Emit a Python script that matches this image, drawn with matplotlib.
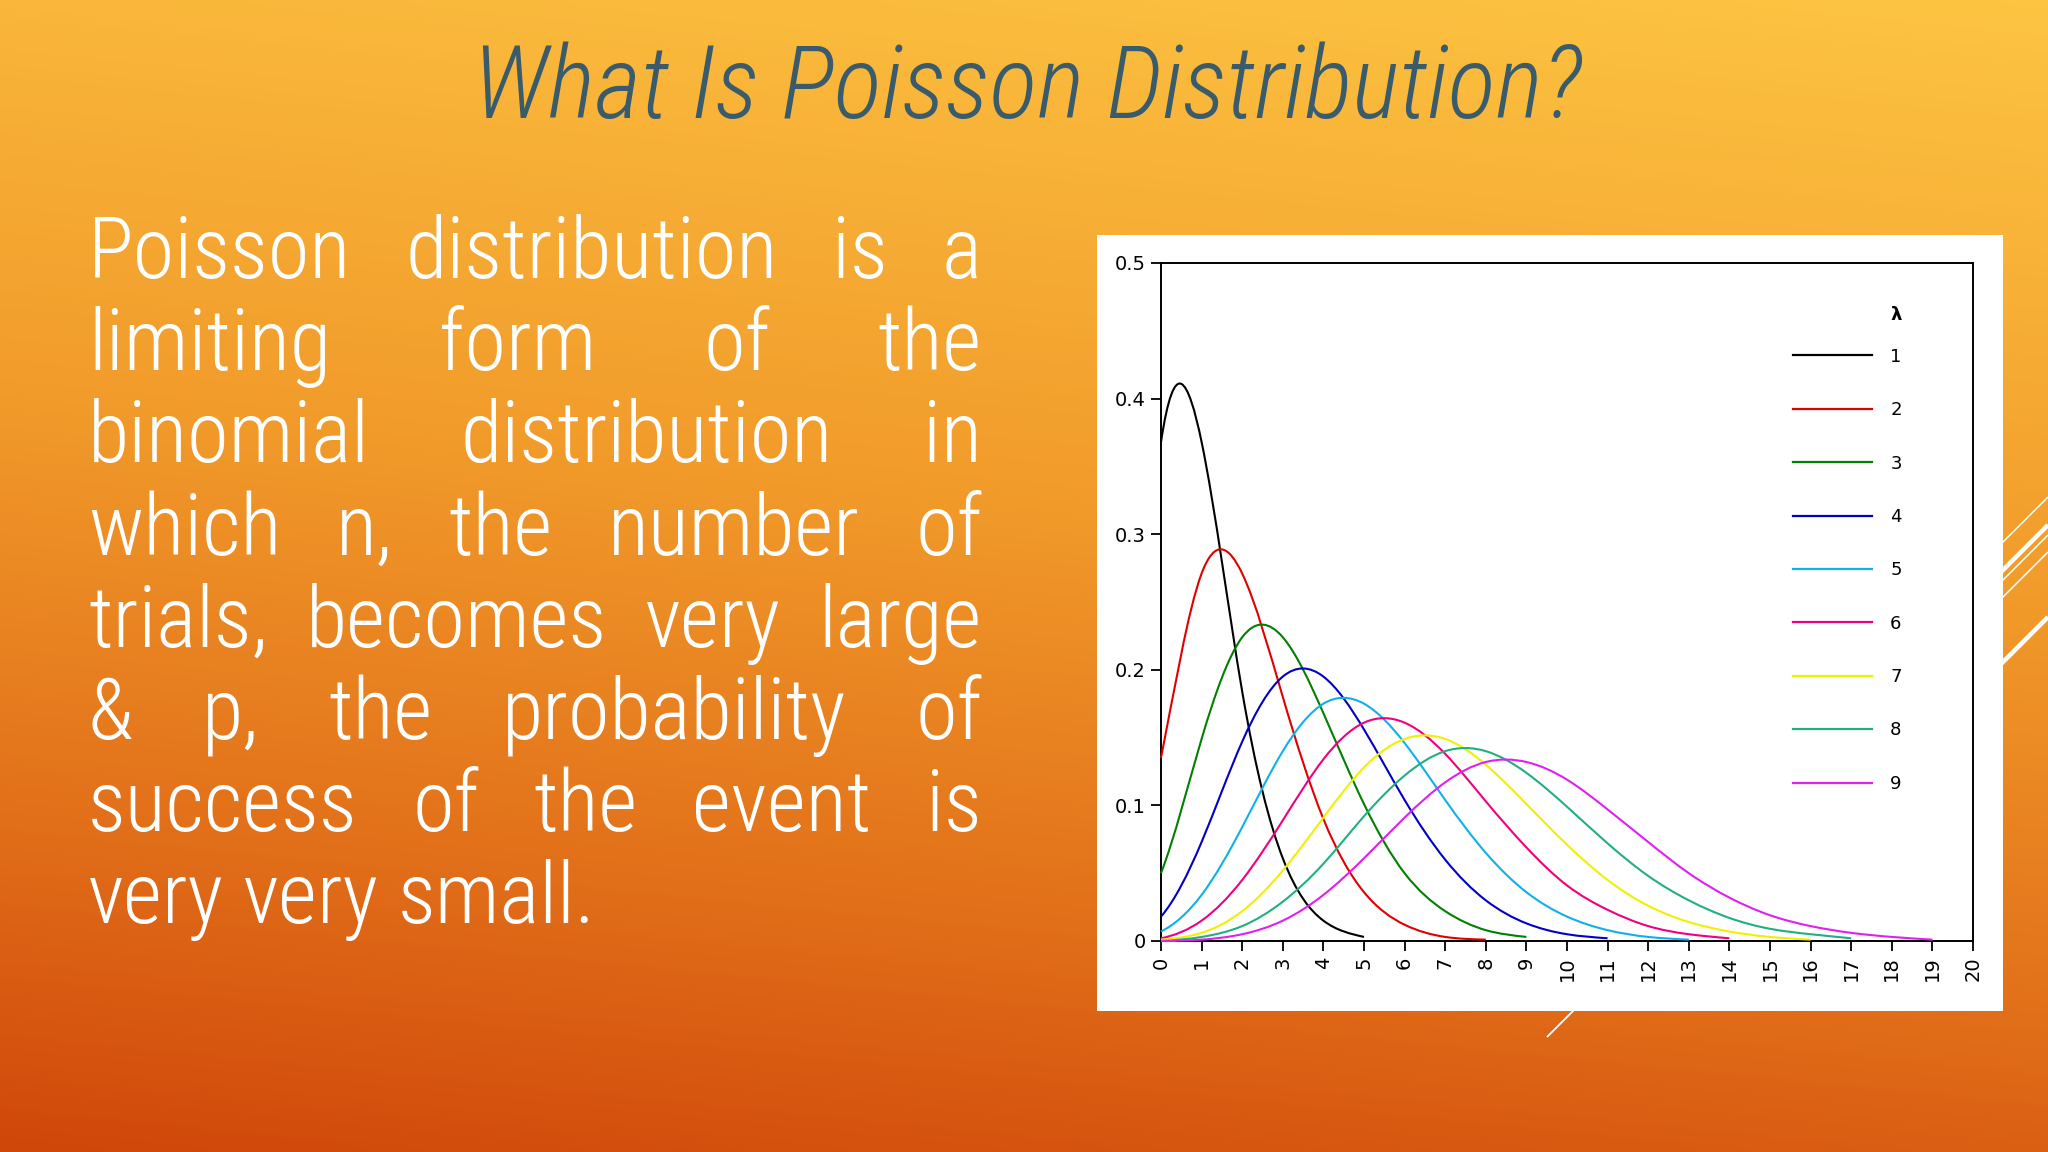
import numpy as np
import matplotlib
matplotlib.use("Agg")
import matplotlib.pyplot as plt
from matplotlib.path import Path
from matplotlib.patches import PathPatch, Rectangle
from matplotlib.lines import Line2D
from matplotlib.colors import LinearSegmentedColormap

W, H = 2048, 1152

# ── data: Poisson pmf at k = 0, 1, 2, ... ────────────────────────────────────
LAMBDAS = [1, 2, 3, 4, 5, 6, 7, 8, 9]
PMF_1 = [0.368, 0.368, 0.184, 0.061, 0.015, 0.003]
PMF_2 = [0.135, 0.271, 0.271, 0.180, 0.090, 0.036, 0.012, 0.003, 0.001]
PMF_3 = [0.050, 0.149, 0.224, 0.224, 0.168, 0.101, 0.050, 0.022, 0.008, 0.003]
PMF_4 = [0.018, 0.073, 0.147, 0.195, 0.195, 0.156, 0.104, 0.060, 0.030, 0.013,
         0.005, 0.002]
PMF_5 = [0.007, 0.034, 0.084, 0.140, 0.175, 0.175, 0.146, 0.104, 0.065, 0.036,
         0.018, 0.008, 0.003, 0.001]
PMF_6 = [0.002, 0.015, 0.045, 0.089, 0.134, 0.161, 0.161, 0.138, 0.103, 0.069,
         0.041, 0.023, 0.011, 0.005, 0.002]
PMF_7 = [0.001, 0.006, 0.022, 0.052, 0.091, 0.128, 0.149, 0.149, 0.130, 0.101,
         0.071, 0.045, 0.026, 0.014, 0.007, 0.003, 0.001]
PMF_8 = [0.000, 0.003, 0.011, 0.029, 0.057, 0.092, 0.122, 0.140, 0.140, 0.124,
         0.099, 0.072, 0.048, 0.030, 0.017, 0.009, 0.005, 0.002]
PMF_9 = [0.000, 0.001, 0.005, 0.015, 0.034, 0.061, 0.091, 0.117, 0.132, 0.132,
         0.119, 0.097, 0.073, 0.050, 0.032, 0.019, 0.011, 0.006, 0.003, 0.001]
PMFS = [PMF_1, PMF_2, PMF_3, PMF_4, PMF_5, PMF_6, PMF_7, PMF_8, PMF_9]
CURVE_COLORS = ["#000000", "#e00000", "#008000", "#0000c8", "#10b0e8",
                "#f00080", "#f0f000", "#20b080", "#e020f0"]

X_TICKS = list(range(0, 21))
Y_TICKS = [0, 0.1, 0.2, 0.3, 0.4, 0.5]
Y_TICK_LABELS = ["0", "0.1", "0.2", "0.3", "0.4", "0.5"]

TITLE = "What Is Poisson Distribution?"
BODY_LINES = [
    "Poisson distribution is a",
    "limiting form of the",
    "binomial distribution in",
    "which n, the number of",
    "trials, becomes very large",
    "& p, the probability of",
    "success of the event is",
    "very very small.",
]

# ── style ────────────────────────────────────────────────────────────────────
BG_STOPS = [(0.0, "#fdc442"), (0.45, "#f19a2a"), (0.75, "#e2701a"), (1.0, "#d0470a")]
TITLE_COLOR = "#395b6b"
SANS_FAMILY = ["Roboto Condensed", "DejaVu Sans"]
TICK_FAMILY = ["DejaVu Sans"]


def spline_path(values):
    """Natural cubic spline through (k, pmf) with pmf(-1) = 0, as Bezier path."""
    y = np.r_[0.0, values]
    n = len(y)
    A = np.zeros((n, n))
    rhs = np.zeros(n)
    A[0, 0] = A[-1, -1] = 1.0
    for i in range(1, n - 1):
        A[i, i - 1:i + 2] = [1.0, 4.0, 1.0]
        rhs[i] = 6 * (y[i - 1] - 2 * y[i] + y[i + 1])
    M = np.linalg.solve(A, rhs)
    verts = [(0.0, y[1])]
    codes = [Path.MOVETO]
    for i in range(1, n - 1):
        xi = i - 1
        dy = y[i + 1] - y[i]
        d0 = dy - (2 * M[i] + M[i + 1]) / 6
        d1 = dy + (M[i] + 2 * M[i + 1]) / 6
        verts += [(xi + 1 / 3, y[i] + d0 / 3), (xi + 2 / 3, y[i + 1] - d1 / 3),
                  (xi + 1, y[i + 1])]
        codes += [Path.CURVE4] * 3
    return Path(verts, codes)


def px(x, y):
    """slide pixel (from top-left) -> figure fraction"""
    return x / W, 1 - y / H


fig = plt.figure(figsize=(W / 100, H / 100), dpi=100)
renderer = fig.canvas.get_renderer()


def text_width(s, **kw):
    t = fig.text(0, 0, s, **kw)
    w = t.get_window_extent(renderer).width
    t.remove()
    return w


# ── background gradient ─────────────────────────────────────────────────────
bg = fig.add_axes([0, 0, 1, 1], zorder=-10)
bg.axis("off")
u = np.linspace(0, 1, 256)[None, :]
v = np.linspace(0, 1, 144)[:, None]
t = np.clip(0.85 * v + 0.15 * (1 - u), 0, 1)
cmap = LinearSegmentedColormap.from_list("slide", BG_STOPS)
bg.imshow(t, cmap=cmap, vmin=0, vmax=1, aspect="auto", extent=[0, 1, 0, 1],
          interpolation="bicubic")
bg.set_xlim(0, 1)
bg.set_ylim(0, 1)

# decorative diagonal strokes on the right edge (pixel coords, lw in px)
STROKES = [((1900, 645), (2048, 497), 1.5), ((1900, 673), (2048, 525), 4.5),
           ((1900, 683), (2048, 535), 1.5), ((1900, 700), (2048, 552), 1.5),
           ((1900, 765), (2048, 617), 4.5), ((1547, 1037), (1620, 964), 1.8)]
for (x0, y0), (x1, y1), lw in STROKES:
    (fx0, fy0), (fx1, fy1) = px(x0, y0), px(x1, y1)
    bg.add_line(Line2D([fx0, fx1], [fy0, fy1], color="white", lw=lw * 0.72,
                       solid_capstyle="butt", zorder=2))

# white card behind the chart
bx0, by0 = px(1097, 1011)
bx1, by1 = px(2003, 235)
bg.add_patch(Rectangle((bx0, by0), bx1 - bx0, by1 - by0, facecolor="white",
                       edgecolor="none", zorder=3))

# ── title ───────────────────────────────────────────────────────────────────
title_kw = dict(family=SANS_FAMILY, style="italic", weight="light")
title_size = 68
tw = text_width(TITLE, fontsize=title_size, **title_kw)
title_size *= min(1.15, 1111 / tw)
tx, ty = px(1028, 118)
fig.text(tx, ty, TITLE, ha="center", va="baseline", color=TITLE_COLOR,
         fontsize=title_size, **title_kw)

# ── justified body text ─────────────────────────────────────────────────────
LEFT, RIGHT = 88, 982
BASE0, STEP = 278, 92.2
body_kw = dict(family=SANS_FAMILY, weight="light")
body_size = 61
natural = text_width(BODY_LINES[4], fontsize=body_size, **body_kw)
body_size *= min(1.0, (RIGHT - LEFT) / natural)
space = (text_width("a a", fontsize=body_size, **body_kw)
         - text_width("aa", fontsize=body_size, **body_kw))

for row, line in enumerate(BODY_LINES):
    words = line.split()
    base = BASE0 + row * STEP
    arts = [fig.text(0, px(0, base)[1], w, color="white", fontsize=body_size,
                     va="baseline", **body_kw) for w in words]
    widths = [a.get_window_extent(renderer).width for a in arts]
    if row == len(BODY_LINES) - 1:
        gap = space
    else:
        gap = (RIGHT - LEFT - sum(widths)) / (len(words) - 1)
    x = LEFT
    for a, w in zip(arts, widths):
        a.set_x(x / W)
        x += w + gap

# ── chart ───────────────────────────────────────────────────────────────────
ax_l, ax_b = px(1161, 941)
ax_r, ax_t = px(1973, 263)
ax = fig.add_axes([ax_l, ax_b, ax_r - ax_l, ax_t - ax_b], zorder=5)
ax.set_facecolor("white")

for pmf, color in zip(PMFS, CURVE_COLORS):
    ax.add_patch(PathPatch(spline_path(pmf), facecolor="none", edgecolor=color,
                           lw=1.5, zorder=4, clip_on=False))

ax.set_xlim(0, 20)
ax.set_ylim(0, 0.5)
ax.set_xticks(X_TICKS)
ax.set_xticklabels([str(k) for k in X_TICKS], rotation=90, family=TICK_FAMILY,
                   fontsize=14)
ax.set_yticks(Y_TICKS)
ax.set_yticklabels(Y_TICK_LABELS, family=TICK_FAMILY, fontsize=14)
ax.tick_params(direction="out", length=7, width=1.3, color="black", pad=4)
for s in ax.spines.values():
    s.set_linewidth(1.4)
    s.set_color("black")

handles = [Line2D([], [], color=c, lw=1.6) for c in CURVE_COLORS]
leg = ax.legend(handles, [str(l) for l in LAMBDAS], loc="upper left",
                bbox_to_anchor=(0.778, 0.875), frameon=False,
                prop={"family": TICK_FAMILY, "size": 13},
                handlelength=4.4, handletextpad=1.0, labelspacing=1.96,
                borderpad=0, borderaxespad=0)
# legend heading "λ" sits above the first label (drawn after the legend)
ax.annotate("λ", xy=(0.5, 0.5), xycoords=leg.get_texts()[0], xytext=(0, 30),
            textcoords="offset points", ha="center", va="center",
            family="DejaVu Sans", weight="bold", fontsize=13, zorder=6)

fig.savefig("out.png", dpi=100)
